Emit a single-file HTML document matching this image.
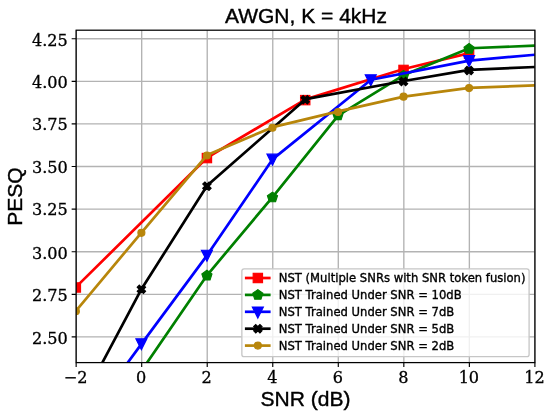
<!DOCTYPE html>
<html><head><meta charset="utf-8"><title>AWGN, K = 4kHz</title>
<style>
html,body{margin:0;padding:0;background:#fff;}
svg{display:block;}
.tick{font-family:"DejaVu Serif","Liberation Serif",serif;font-size:16.1px;fill:#000;stroke:#000;stroke-width:0.3px;}
.lab{font-family:"Liberation Sans",Arial,Helvetica,sans-serif;font-size:21px;fill:#000;stroke:#000;stroke-width:0.4px;}
.leg{font-family:"DejaVu Sans","Liberation Sans",sans-serif;font-size:11.6px;fill:#000;stroke:#000;stroke-width:0.35px;}
</style></head><body>
<svg width="550" height="417" viewBox="0 0 550 417">
<rect width="550" height="417" fill="#fff"/>

<defs><clipPath id="ax"><rect x="76.15" y="30.2" width="458.75" height="332.40000000000003"/></clipPath></defs>
<path d="M76.15 30.2V362.6 M141.69 30.2V362.6 M207.22 30.2V362.6 M272.76 30.2V362.6 M338.29 30.2V362.6 M403.83 30.2V362.6 M469.37 30.2V362.6 M534.90 30.2V362.6 M76.15 336.90H534.9 M76.15 294.30H534.9 M76.15 251.70H534.9 M76.15 209.10H534.9 M76.15 166.50H534.9 M76.15 123.90H534.9 M76.15 81.30H534.9 M76.15 38.70H534.9" stroke="#b3b3b3" stroke-width="1.35" fill="none"/>
<path d="M76.15 362.6v4.5 M141.69 362.6v4.5 M207.22 362.6v4.5 M272.76 362.6v4.5 M338.29 362.6v4.5 M403.83 362.6v4.5 M469.37 362.6v4.5 M534.90 362.6v4.5 M76.15 336.90h-4.5 M76.15 294.30h-4.5 M76.15 251.70h-4.5 M76.15 209.10h-4.5 M76.15 166.50h-4.5 M76.15 123.90h-4.5 M76.15 81.30h-4.5 M76.15 38.70h-4.5" stroke="#000" stroke-width="1.15" fill="none"/>
<g clip-path="url(#ax)">
<path d="M76.15 286.89 L207.22 157.47 L305.53 99.36 L403.83 69.03 L469.37 53.10" stroke="#ff0000" stroke-width="2.7" fill="none" stroke-linejoin="round" stroke-linecap="butt"/>
<rect x="71.19" y="282.82" width="9.33" height="9.33" fill="#ff0000" stroke="#ff0000" stroke-width="1.167"/>
<rect x="202.26" y="153.40" width="9.33" height="9.33" fill="#ff0000" stroke="#ff0000" stroke-width="1.167"/>
<rect x="300.56" y="95.45" width="9.33" height="9.33" fill="#ff0000" stroke="#ff0000" stroke-width="1.167"/>
<rect x="398.87" y="65.27" width="9.33" height="9.33" fill="#ff0000" stroke="#ff0000" stroke-width="1.167"/>
<rect x="464.40" y="49.03" width="9.33" height="9.33" fill="#ff0000" stroke="#ff0000" stroke-width="1.167"/>
<path d="M76.15 473.22 L141.69 370.47 L207.22 275.04 L272.76 196.83 L338.29 115.38 L403.83 75.08 L469.37 48.24 L534.90 45.69" stroke="#008000" stroke-width="2.7" fill="none" stroke-linejoin="round" stroke-linecap="butt"/>
<polygon points="141.39,365.77 146.43,369.43 144.50,375.36 138.27,375.36 136.35,369.43" fill="#008000" stroke="#008000" stroke-width="1.167" stroke-linejoin="miter"/>
<polygon points="206.92,270.34 211.96,274.01 210.04,279.93 203.81,279.93 201.88,274.01" fill="#008000" stroke="#008000" stroke-width="1.167" stroke-linejoin="miter"/>
<polygon points="272.46,192.13 277.50,195.79 275.57,201.72 269.34,201.72 267.42,195.79" fill="#008000" stroke="#008000" stroke-width="1.167" stroke-linejoin="miter"/>
<polygon points="337.99,110.08 343.03,113.74 341.11,119.67 334.88,119.67 332.95,113.74" fill="#008000" stroke="#008000" stroke-width="1.167" stroke-linejoin="miter"/>
<polygon points="403.53,70.38 408.57,74.04 406.65,79.97 400.41,79.97 398.49,74.04" fill="#008000" stroke="#008000" stroke-width="1.167" stroke-linejoin="miter"/>
<polygon points="469.07,43.54 474.11,47.20 472.18,53.13 465.95,53.13 464.03,47.20" fill="#008000" stroke="#008000" stroke-width="1.167" stroke-linejoin="miter"/>
<path d="M76.15 433.01 L141.69 343.63 L207.22 255.11 L272.76 159.09 L371.06 79.77 L469.37 60.60 L534.90 54.72" stroke="#0000ff" stroke-width="2.7" fill="none" stroke-linejoin="round" stroke-linecap="butt"/>
<polygon points="141.39,349.73 146.89,338.73 135.89,338.73" fill="#0000ff" stroke="#0000ff" stroke-width="1.167" stroke-linejoin="miter"/>
<polygon points="206.92,261.21 212.42,250.21 201.42,250.21" fill="#0000ff" stroke="#0000ff" stroke-width="1.167" stroke-linejoin="miter"/>
<polygon points="272.46,165.19 277.96,154.19 266.96,154.19" fill="#0000ff" stroke="#0000ff" stroke-width="1.167" stroke-linejoin="miter"/>
<polygon points="370.76,85.87 376.26,74.87 365.26,74.87" fill="#0000ff" stroke="#0000ff" stroke-width="1.167" stroke-linejoin="miter"/>
<polygon points="469.07,66.70 474.57,55.70 463.57,55.70" fill="#0000ff" stroke="#0000ff" stroke-width="1.167" stroke-linejoin="miter"/>
<path d="M76.15 411.88 L141.69 288.68 L207.22 185.58 L305.53 99.19 L403.83 80.96 L469.37 69.88 L534.90 66.99" stroke="#000000" stroke-width="2.7" fill="none" stroke-linejoin="round" stroke-linecap="butt"/>
<polygon points="139.31,285.13 141.39,287.20 143.46,285.13 145.54,287.20 143.46,289.28 145.54,291.35 143.46,293.43 141.39,291.35 139.31,293.43 137.24,291.35 139.31,289.28 137.24,287.20" fill="#000000" stroke="#000000" stroke-width="1.167" stroke-linejoin="miter"/>
<polygon points="204.85,182.03 206.92,184.11 209.00,182.03 211.07,184.11 209.00,186.18 211.07,188.26 209.00,190.33 206.92,188.26 204.85,190.33 202.77,188.26 204.85,186.18 202.77,184.11" fill="#000000" stroke="#000000" stroke-width="1.167" stroke-linejoin="miter"/>
<polygon points="303.15,95.64 305.23,97.72 307.30,95.64 309.38,97.72 307.30,99.79 309.38,101.87 307.30,103.94 305.23,101.87 303.15,103.94 301.08,101.87 303.15,99.79 301.08,97.72" fill="#000000" stroke="#000000" stroke-width="1.167" stroke-linejoin="miter"/>
<polygon points="401.46,77.41 403.53,79.48 405.61,77.41 407.68,79.48 405.61,81.56 407.68,83.63 405.61,85.71 403.53,83.63 401.46,85.71 399.38,83.63 401.46,81.56 399.38,79.48" fill="#000000" stroke="#000000" stroke-width="1.167" stroke-linejoin="miter"/>
<polygon points="466.99,66.33 469.07,68.41 471.14,66.33 473.22,68.41 471.14,70.48 473.22,72.56 471.14,74.63 469.07,72.56 466.99,74.63 464.92,72.56 466.99,70.48 464.92,68.41" fill="#000000" stroke="#000000" stroke-width="1.167" stroke-linejoin="miter"/>
<path d="M76.15 310.66 L141.69 232.27 L207.22 154.91 L272.76 127.14 L338.29 111.38 L403.83 96.64 L469.37 87.95 L534.90 85.39" stroke="#b8860b" stroke-width="2.7" fill="none" stroke-linejoin="round" stroke-linecap="butt"/>
<circle cx="75.85" cy="311.26" r="3.50" fill="#b8860b" stroke="#b8860b" stroke-width="1.167"/>
<circle cx="141.39" cy="232.87" r="3.50" fill="#b8860b" stroke="#b8860b" stroke-width="1.167"/>
<circle cx="206.92" cy="155.51" r="3.50" fill="#b8860b" stroke="#b8860b" stroke-width="1.167"/>
<circle cx="272.46" cy="127.74" r="3.50" fill="#b8860b" stroke="#b8860b" stroke-width="1.167"/>
<circle cx="337.99" cy="111.98" r="3.50" fill="#b8860b" stroke="#b8860b" stroke-width="1.167"/>
<circle cx="403.53" cy="96.64" r="3.50" fill="#b8860b" stroke="#b8860b" stroke-width="1.167"/>
<circle cx="469.07" cy="88.05" r="3.50" fill="#b8860b" stroke="#b8860b" stroke-width="1.167"/>
</g>
<rect x="76.15" y="30.2" width="458.75" height="332.40000000000003" fill="none" stroke="#000" stroke-width="1.25"/>
<text class="tick" x="75.65" y="382.5" text-anchor="middle">−2</text>
<text class="tick" x="141.19" y="382.5" text-anchor="middle">0</text>
<text class="tick" x="206.72" y="382.5" text-anchor="middle">2</text>
<text class="tick" x="272.26" y="382.5" text-anchor="middle">4</text>
<text class="tick" x="337.79" y="382.5" text-anchor="middle">6</text>
<text class="tick" x="403.33" y="382.5" text-anchor="middle">8</text>
<text class="tick" x="468.87" y="382.5" text-anchor="middle">10</text>
<text class="tick" x="534.40" y="382.5" text-anchor="middle">12</text>
<text class="tick" x="67.8" y="343.60" text-anchor="end">2.50</text>
<text class="tick" x="67.8" y="301.40" text-anchor="end">2.75</text>
<text class="tick" x="67.8" y="258.60" text-anchor="end">3.00</text>
<text class="tick" x="67.8" y="215.30" text-anchor="end">3.25</text>
<text class="tick" x="67.8" y="173.20" text-anchor="end">3.50</text>
<text class="tick" x="67.8" y="130.10" text-anchor="end">3.75</text>
<text class="tick" x="67.8" y="88.40" text-anchor="end">4.00</text>
<text class="tick" x="67.8" y="45.70" text-anchor="end">4.25</text>
<text class="lab" x="306.0" y="22.5" text-anchor="middle">AWGN, K = 4kHz</text>
<text class="lab" x="305.5" y="405.7" text-anchor="middle">SNR (dB)</text>
<text class="lab" transform="translate(22.0 196.5) rotate(-90)" text-anchor="middle">PESQ</text>
<rect x="241.85" y="268.8" width="287.25" height="87.89999999999998" rx="2.3" ry="2.3" fill="#fff" fill-opacity="0.8" stroke="#c6c6c6" stroke-width="1.3"/>
<path d="M244.9 278.0H270.6" stroke="#ff0000" stroke-width="2.7" fill="none"/>
<rect x="253.19" y="273.33" width="9.33" height="9.33" fill="#ff0000" stroke="#ff0000" stroke-width="1.167"/>
<text class="leg" x="278.8" y="282.20">NST (Multiple SNRs with SNR token fusion)</text>
<path d="M244.9 294.9H270.6" stroke="#008000" stroke-width="2.7" fill="none"/>
<polygon points="257.85,289.60 262.89,293.26 260.97,299.19 254.73,299.19 252.81,293.26" fill="#008000" stroke="#008000" stroke-width="1.167" stroke-linejoin="miter"/>
<text class="leg" x="278.8" y="299.10">NST Trained Under SNR = 10dB</text>
<path d="M244.9 311.8H270.6" stroke="#0000ff" stroke-width="2.7" fill="none"/>
<polygon points="257.85,318.10 263.35,307.10 252.35,307.10" fill="#0000ff" stroke="#0000ff" stroke-width="1.167" stroke-linejoin="miter"/>
<text class="leg" x="278.8" y="316.00">NST Trained Under SNR = 7dB</text>
<path d="M244.9 328.7H270.6" stroke="#000000" stroke-width="2.7" fill="none"/>
<polygon points="255.78,324.55 257.85,326.62 259.93,324.55 262.00,326.62 259.93,328.70 262.00,330.77 259.93,332.85 257.85,330.77 255.78,332.85 253.70,330.77 255.78,328.70 253.70,326.62" fill="#000000" stroke="#000000" stroke-width="1.167" stroke-linejoin="miter"/>
<text class="leg" x="278.8" y="332.90">NST Trained Under SNR = 5dB</text>
<path d="M244.9 345.6H270.6" stroke="#b8860b" stroke-width="2.7" fill="none"/>
<circle cx="257.85" cy="345.60" r="3.50" fill="#b8860b" stroke="#b8860b" stroke-width="1.167"/>
<text class="leg" x="278.8" y="349.80">NST Trained Under SNR = 2dB</text>
</svg></body></html>
